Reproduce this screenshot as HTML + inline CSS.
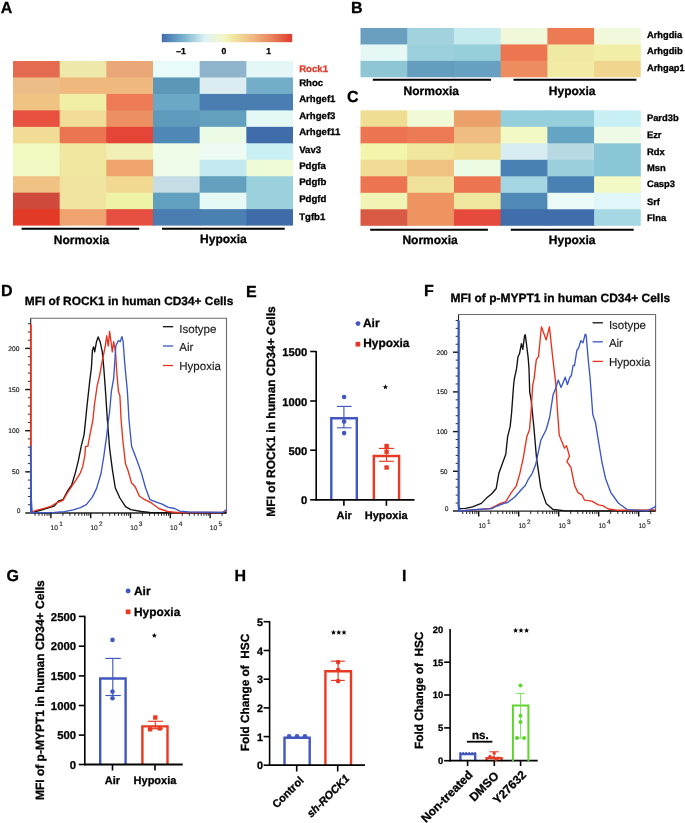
<!DOCTYPE html>
<html><head><meta charset="utf-8"><title>Figure</title>
<style>
html,body{margin:0;padding:0;background:#fff;}
body{width:685px;height:823px;overflow:hidden;}
svg{display:block;font-family:"Liberation Sans", sans-serif;will-change:transform;text-rendering:geometricPrecision;}
</style></head>
<body>
<svg width="685" height="823" viewBox="0 0 685 823">
<rect width="685" height="823" fill="#fff"/>
<text x="0.8" y="12.6" font-size="16" font-weight="bold" font-style="normal" text-anchor="start" fill="#000"  stroke="#000" stroke-width="0.3">A</text>
<text x="350.9" y="12.6" font-size="16" font-weight="bold" font-style="normal" text-anchor="start" fill="#000"  stroke="#000" stroke-width="0.3">B</text>
<text x="347.1" y="102.3" font-size="16" font-weight="bold" font-style="normal" text-anchor="start" fill="#000"  stroke="#000" stroke-width="0.3">C</text>
<text x="0.9" y="295.7" font-size="16" font-weight="bold" font-style="normal" text-anchor="start" fill="#000"  stroke="#000" stroke-width="0.3">D</text>
<text x="246.0" y="296.9" font-size="16" font-weight="bold" font-style="normal" text-anchor="start" fill="#000"  stroke="#000" stroke-width="0.3">E</text>
<text x="423.9" y="295.7" font-size="16" font-weight="bold" font-style="normal" text-anchor="start" fill="#000"  stroke="#000" stroke-width="0.3">F</text>
<text x="6.4" y="581.0" font-size="16" font-weight="bold" font-style="normal" text-anchor="start" fill="#000"  stroke="#000" stroke-width="0.3">G</text>
<text x="234.4" y="581.3" font-size="16" font-weight="bold" font-style="normal" text-anchor="start" fill="#000"  stroke="#000" stroke-width="0.3">H</text>
<text x="402.1" y="581.3" font-size="16" font-weight="bold" font-style="normal" text-anchor="start" fill="#000"  stroke="#000" stroke-width="0.3">I</text>
<rect x="13.00" y="61.00" width="47.87" height="17.66" fill="#e46b50" />
<rect x="59.67" y="61.00" width="47.87" height="17.66" fill="#efe8ab" />
<rect x="106.33" y="61.00" width="47.87" height="17.66" fill="#eaa878" />
<rect x="153.00" y="61.00" width="47.87" height="17.66" fill="#e8faf9" />
<rect x="199.67" y="61.00" width="47.87" height="17.66" fill="#8fb4cb" />
<rect x="246.33" y="61.00" width="46.67" height="17.66" fill="#e4f6f6" />
<rect x="13.00" y="77.46" width="47.87" height="17.66" fill="#edbd88" />
<rect x="59.67" y="77.46" width="47.87" height="17.66" fill="#efb97d" />
<rect x="106.33" y="77.46" width="47.87" height="17.66" fill="#efb97d" />
<rect x="153.00" y="77.46" width="47.87" height="17.66" fill="#5c97b7" />
<rect x="199.67" y="77.46" width="47.87" height="17.66" fill="#dcedf2" />
<rect x="246.33" y="77.46" width="46.67" height="17.66" fill="#74adc7" />
<rect x="13.00" y="93.92" width="47.87" height="17.66" fill="#efc482" />
<rect x="59.67" y="93.92" width="47.87" height="17.66" fill="#f1eea5" />
<rect x="106.33" y="93.92" width="47.87" height="17.66" fill="#ee7a56" />
<rect x="153.00" y="93.92" width="47.87" height="17.66" fill="#6aa8c5" />
<rect x="199.67" y="93.92" width="47.87" height="17.66" fill="#4a7eb2" />
<rect x="246.33" y="93.92" width="46.67" height="17.66" fill="#4a7eb2" />
<rect x="13.00" y="110.38" width="47.87" height="17.66" fill="#e8503f" />
<rect x="59.67" y="110.38" width="47.87" height="17.66" fill="#f1dd98" />
<rect x="106.33" y="110.38" width="47.87" height="17.66" fill="#ec9062" />
<rect x="153.00" y="110.38" width="47.87" height="17.66" fill="#5d9abc" />
<rect x="199.67" y="110.38" width="47.87" height="17.66" fill="#62a0be" />
<rect x="246.33" y="110.38" width="46.67" height="17.66" fill="#e4f8f6" />
<rect x="13.00" y="126.84" width="47.87" height="17.66" fill="#f1dc95" />
<rect x="59.67" y="126.84" width="47.87" height="17.66" fill="#ec7551" />
<rect x="106.33" y="126.84" width="47.87" height="17.66" fill="#e54536" />
<rect x="153.00" y="126.84" width="47.87" height="17.66" fill="#4f88b6" />
<rect x="199.67" y="126.84" width="47.87" height="17.66" fill="#ecfbe5" />
<rect x="246.33" y="126.84" width="46.67" height="17.66" fill="#3e6da9" />
<rect x="13.00" y="143.30" width="47.87" height="17.66" fill="#f1f8c0" />
<rect x="59.67" y="143.30" width="47.87" height="17.66" fill="#f1e6a0" />
<rect x="106.33" y="143.30" width="47.87" height="17.66" fill="#f1efb5" />
<rect x="153.00" y="143.30" width="47.87" height="17.66" fill="#eefbe6" />
<rect x="199.67" y="143.30" width="47.87" height="17.66" fill="#edfbf2" />
<rect x="246.33" y="143.30" width="46.67" height="17.66" fill="#cbf0f3" />
<rect x="13.00" y="159.76" width="47.87" height="17.66" fill="#f2f8c4" />
<rect x="59.67" y="159.76" width="47.87" height="17.66" fill="#f1e6a0" />
<rect x="106.33" y="159.76" width="47.87" height="17.66" fill="#eea46c" />
<rect x="153.00" y="159.76" width="47.87" height="17.66" fill="#eefbe8" />
<rect x="199.67" y="159.76" width="47.87" height="17.66" fill="#c4e9ef" />
<rect x="246.33" y="159.76" width="46.67" height="17.66" fill="#eefbd6" />
<rect x="13.00" y="176.22" width="47.87" height="17.66" fill="#f0c284" />
<rect x="59.67" y="176.22" width="47.87" height="17.66" fill="#f1e4a0" />
<rect x="106.33" y="176.22" width="47.87" height="17.66" fill="#f1d992" />
<rect x="153.00" y="176.22" width="47.87" height="17.66" fill="#c6dde5" />
<rect x="199.67" y="176.22" width="47.87" height="17.66" fill="#64a0be" />
<rect x="246.33" y="176.22" width="46.67" height="17.66" fill="#9ad1dc" />
<rect x="13.00" y="192.68" width="47.87" height="17.66" fill="#cf4a3b" />
<rect x="59.67" y="192.68" width="47.87" height="17.66" fill="#f1e4a0" />
<rect x="106.33" y="192.68" width="47.87" height="17.66" fill="#eff3a6" />
<rect x="153.00" y="192.68" width="47.87" height="17.66" fill="#62a0c0" />
<rect x="199.67" y="192.68" width="47.87" height="17.66" fill="#e6f9f6" />
<rect x="246.33" y="192.68" width="46.67" height="17.66" fill="#9ad1dc" />
<rect x="13.00" y="209.14" width="47.87" height="16.46" fill="#e33a27" />
<rect x="59.67" y="209.14" width="47.87" height="16.46" fill="#efa36e" />
<rect x="106.33" y="209.14" width="47.87" height="16.46" fill="#e65041" />
<rect x="153.00" y="209.14" width="47.87" height="16.46" fill="#4a7db2" />
<rect x="199.67" y="209.14" width="47.87" height="16.46" fill="#4a80b2" />
<rect x="246.33" y="209.14" width="46.67" height="16.46" fill="#3e6ca9" />
<rect x="360.50" y="28.00" width="47.92" height="17.63" fill="#6a9fc0" />
<rect x="407.22" y="28.00" width="47.92" height="17.63" fill="#a3d2df" />
<rect x="453.93" y="28.00" width="47.92" height="17.63" fill="#c6ebef" />
<rect x="500.65" y="28.00" width="47.92" height="17.63" fill="#f1f8d9" />
<rect x="547.37" y="28.00" width="47.92" height="17.63" fill="#ec7a53" />
<rect x="594.08" y="28.00" width="46.72" height="17.63" fill="#f0f9db" />
<rect x="360.50" y="44.43" width="47.92" height="17.63" fill="#e6f8f6" />
<rect x="407.22" y="44.43" width="47.92" height="17.63" fill="#9dd0dd" />
<rect x="453.93" y="44.43" width="47.92" height="17.63" fill="#96ced9" />
<rect x="500.65" y="44.43" width="47.92" height="17.63" fill="#ed7651" />
<rect x="547.37" y="44.43" width="47.92" height="17.63" fill="#f0e9a3" />
<rect x="594.08" y="44.43" width="46.72" height="17.63" fill="#f1eea7" />
<rect x="360.50" y="60.87" width="47.92" height="16.43" fill="#8fc6d4" />
<rect x="407.22" y="60.87" width="47.92" height="16.43" fill="#659dbf" />
<rect x="453.93" y="60.87" width="47.92" height="16.43" fill="#67a0c0" />
<rect x="500.65" y="60.87" width="47.92" height="16.43" fill="#ec8c5f" />
<rect x="547.37" y="60.87" width="47.92" height="16.43" fill="#f1eba6" />
<rect x="594.08" y="60.87" width="46.72" height="16.43" fill="#f0d58f" />
<rect x="360.50" y="110.30" width="47.92" height="17.70" fill="#efdd94" />
<rect x="407.22" y="110.30" width="47.92" height="17.70" fill="#f0fad6" />
<rect x="453.93" y="110.30" width="47.92" height="17.70" fill="#eca06a" />
<rect x="500.65" y="110.30" width="47.92" height="17.70" fill="#95cfdb" />
<rect x="547.37" y="110.30" width="47.92" height="17.70" fill="#95cfdb" />
<rect x="594.08" y="110.30" width="46.72" height="17.70" fill="#c8f0f4" />
<rect x="360.50" y="126.80" width="47.92" height="17.70" fill="#ec7451" />
<rect x="407.22" y="126.80" width="47.92" height="17.70" fill="#ec7a53" />
<rect x="453.93" y="126.80" width="47.92" height="17.70" fill="#efbc81" />
<rect x="500.65" y="126.80" width="47.92" height="17.70" fill="#f2f9c4" />
<rect x="547.37" y="126.80" width="47.92" height="17.70" fill="#65a4c2" />
<rect x="594.08" y="126.80" width="46.72" height="17.70" fill="#eefae5" />
<rect x="360.50" y="143.30" width="47.92" height="17.70" fill="#f2f5ab" />
<rect x="407.22" y="143.30" width="47.92" height="17.70" fill="#f0e69d" />
<rect x="453.93" y="143.30" width="47.92" height="17.70" fill="#f0de94" />
<rect x="500.65" y="143.30" width="47.92" height="17.70" fill="#d8edf2" />
<rect x="547.37" y="143.30" width="47.92" height="17.70" fill="#b7d9e2" />
<rect x="594.08" y="143.30" width="46.72" height="17.70" fill="#8ac6d5" />
<rect x="360.50" y="159.80" width="47.92" height="17.70" fill="#f0dc94" />
<rect x="407.22" y="159.80" width="47.92" height="17.70" fill="#f0c282" />
<rect x="453.93" y="159.80" width="47.92" height="17.70" fill="#ecfbe4" />
<rect x="500.65" y="159.80" width="47.92" height="17.70" fill="#4a80b4" />
<rect x="547.37" y="159.80" width="47.92" height="17.70" fill="#9bcfdb" />
<rect x="594.08" y="159.80" width="46.72" height="17.70" fill="#8ac6d5" />
<rect x="360.50" y="176.30" width="47.92" height="17.70" fill="#ec7451" />
<rect x="407.22" y="176.30" width="47.92" height="17.70" fill="#f0e29b" />
<rect x="453.93" y="176.30" width="47.92" height="17.70" fill="#ec7451" />
<rect x="500.65" y="176.30" width="47.92" height="17.70" fill="#a3d6e2" />
<rect x="547.37" y="176.30" width="47.92" height="17.70" fill="#4a80b4" />
<rect x="594.08" y="176.30" width="46.72" height="17.70" fill="#f2f9c4" />
<rect x="360.50" y="192.80" width="47.92" height="17.70" fill="#f2f4b5" />
<rect x="407.22" y="192.80" width="47.92" height="17.70" fill="#ed9461" />
<rect x="453.93" y="192.80" width="47.92" height="17.70" fill="#f0e79e" />
<rect x="500.65" y="192.80" width="47.92" height="17.70" fill="#5088b6" />
<rect x="547.37" y="192.80" width="47.92" height="17.70" fill="#ecfaf8" />
<rect x="594.08" y="192.80" width="46.72" height="17.70" fill="#e0f6f8" />
<rect x="360.50" y="209.30" width="47.92" height="16.50" fill="#d85a45" />
<rect x="407.22" y="209.30" width="47.92" height="16.50" fill="#ed9461" />
<rect x="453.93" y="209.30" width="47.92" height="16.50" fill="#e64a3c" />
<rect x="500.65" y="209.30" width="47.92" height="16.50" fill="#3f6eab" />
<rect x="547.37" y="209.30" width="47.92" height="16.50" fill="#3f6eab" />
<rect x="594.08" y="209.30" width="46.72" height="16.50" fill="#a6d8e3" />
<defs><linearGradient id="cb" x1="0" x2="1" y1="0" y2="0">
<stop offset="0" stop-color="#3f6eab"/>
<stop offset="0.18" stop-color="#7fb8d0"/>
<stop offset="0.33" stop-color="#dcf2f4"/>
<stop offset="0.47" stop-color="#f3f7c8"/>
<stop offset="0.55" stop-color="#f1e6a0"/>
<stop offset="0.70" stop-color="#efb880"/>
<stop offset="0.85" stop-color="#e8805c"/>
<stop offset="1" stop-color="#e03a2e"/>
</linearGradient></defs>
<rect x="161.80" y="33.90" width="130.40" height="8.30" fill="url(#cb)" />
<text x="181" y="54.1" font-size="8.6" font-weight="bold" font-style="normal" text-anchor="middle" fill="#000"  stroke="#000" stroke-width="0.3">–1</text>
<text x="223.8" y="54.1" font-size="8.6" font-weight="bold" font-style="normal" text-anchor="middle" fill="#000"  stroke="#000" stroke-width="0.3">0</text>
<text x="268.6" y="54.1" font-size="8.6" font-weight="bold" font-style="normal" text-anchor="middle" fill="#000"  stroke="#000" stroke-width="0.3">1</text>
<text x="299.2" y="72.1" font-size="9.6" font-weight="bold" font-style="normal" text-anchor="start" fill="#e33b2b"  stroke="#e33b2b" stroke-width="0.3">Rock1</text>
<text x="299.2" y="85.9" font-size="9.6" font-weight="bold" font-style="normal" text-anchor="start" fill="#000"  stroke="#000" stroke-width="0.3">Rhoc</text>
<text x="299.2" y="102.1" font-size="9.6" font-weight="bold" font-style="normal" text-anchor="start" fill="#000"  stroke="#000" stroke-width="0.3">Arhgef1</text>
<text x="299.2" y="118.6" font-size="9.6" font-weight="bold" font-style="normal" text-anchor="start" fill="#000"  stroke="#000" stroke-width="0.3">Arhgef3</text>
<text x="299.2" y="135.2" font-size="9.6" font-weight="bold" font-style="normal" text-anchor="start" fill="#000"  stroke="#000" stroke-width="0.3">Arhgef11</text>
<text x="299.2" y="152.6" font-size="9.6" font-weight="bold" font-style="normal" text-anchor="start" fill="#000"  stroke="#000" stroke-width="0.3">Vav3</text>
<text x="299.2" y="168.8" font-size="9.6" font-weight="bold" font-style="normal" text-anchor="start" fill="#000"  stroke="#000" stroke-width="0.3">Pdgfa</text>
<text x="299.2" y="185.2" font-size="9.6" font-weight="bold" font-style="normal" text-anchor="start" fill="#000"  stroke="#000" stroke-width="0.3">Pdgfb</text>
<text x="299.2" y="201.6" font-size="9.6" font-weight="bold" font-style="normal" text-anchor="start" fill="#000"  stroke="#000" stroke-width="0.3">Pdgfd</text>
<text x="299.2" y="220.2" font-size="9.6" font-weight="bold" font-style="normal" text-anchor="start" fill="#000"  stroke="#000" stroke-width="0.3">Tgfb1</text>
<text x="647" y="37.7" font-size="9.3" font-weight="bold" font-style="normal" text-anchor="start" fill="#000"  stroke="#000" stroke-width="0.3">Arhgdia</text>
<text x="647" y="54.3" font-size="9.3" font-weight="bold" font-style="normal" text-anchor="start" fill="#000"  stroke="#000" stroke-width="0.3">Arhgdib</text>
<text x="647" y="70.5" font-size="9.3" font-weight="bold" font-style="normal" text-anchor="start" fill="#000"  stroke="#000" stroke-width="0.3">Arhgap1</text>
<text x="646.9" y="121" font-size="9.4" font-weight="bold" font-style="normal" text-anchor="start" fill="#000"  stroke="#000" stroke-width="0.3">Pard3b</text>
<text x="646.9" y="137.7" font-size="9.4" font-weight="bold" font-style="normal" text-anchor="start" fill="#000"  stroke="#000" stroke-width="0.3">Ezr</text>
<text x="646.9" y="154.8" font-size="9.4" font-weight="bold" font-style="normal" text-anchor="start" fill="#000"  stroke="#000" stroke-width="0.3">Rdx</text>
<text x="646.9" y="171.4" font-size="9.4" font-weight="bold" font-style="normal" text-anchor="start" fill="#000"  stroke="#000" stroke-width="0.3">Msn</text>
<text x="646.9" y="187.1" font-size="9.4" font-weight="bold" font-style="normal" text-anchor="start" fill="#000"  stroke="#000" stroke-width="0.3">Casp3</text>
<text x="646.9" y="204.5" font-size="9.4" font-weight="bold" font-style="normal" text-anchor="start" fill="#000"  stroke="#000" stroke-width="0.3">Srf</text>
<text x="646.9" y="221.3" font-size="9.4" font-weight="bold" font-style="normal" text-anchor="start" fill="#000"  stroke="#000" stroke-width="0.3">Flna</text>
<line x1="21.6" y1="228.8" x2="139.2" y2="228.8" stroke="#000" stroke-width="2" />
<line x1="162" y1="228.8" x2="284.7" y2="228.8" stroke="#000" stroke-width="2" />
<text x="81.5" y="243.5" font-size="12" font-weight="bold" font-style="normal" text-anchor="middle" fill="#000"  stroke="#000" stroke-width="0.3">Normoxia</text>
<text x="223.4" y="243.4" font-size="12" font-weight="bold" font-style="normal" text-anchor="middle" fill="#000"  stroke="#000" stroke-width="0.3">Hypoxia</text>
<line x1="372.8" y1="79.8" x2="491" y2="79.8" stroke="#000" stroke-width="2" />
<line x1="513.5" y1="79.8" x2="636.4" y2="79.8" stroke="#000" stroke-width="2" />
<text x="431.3" y="94.6" font-size="12" font-weight="bold" font-style="normal" text-anchor="middle" fill="#000"  stroke="#000" stroke-width="0.3">Normoxia</text>
<text x="572.2" y="94.5" font-size="12" font-weight="bold" font-style="normal" text-anchor="middle" fill="#000"  stroke="#000" stroke-width="0.3">Hypoxia</text>
<line x1="370.2" y1="229.8" x2="487.9" y2="229.8" stroke="#000" stroke-width="2" />
<line x1="510.8" y1="229.8" x2="633.7" y2="229.8" stroke="#000" stroke-width="2" />
<text x="430.1" y="244.3" font-size="12" font-weight="bold" font-style="normal" text-anchor="middle" fill="#000"  stroke="#000" stroke-width="0.3">Normoxia</text>
<text x="572.2" y="244.4" font-size="12" font-weight="bold" font-style="normal" text-anchor="middle" fill="#000"  stroke="#000" stroke-width="0.3">Hypoxia</text>
<path d="M30.7,318.2 L226.5,318.2 L226.5,513" fill="none" stroke="#6a6a6a" stroke-width="1.1"/>
<line x1="30.7" y1="318.2" x2="30.7" y2="513" stroke="#222" stroke-width="1.1" />
<line x1="30.7" y1="513" x2="226.5" y2="513" stroke="#222" stroke-width="1.3" />
<line x1="25.2" y1="513.0" x2="30.7" y2="513.0" stroke="#111" stroke-width="1.4" />
<text x="20.4" y="512.9" font-size="6.7" font-weight="normal" font-style="normal" text-anchor="end" fill="#111"  stroke="#111" stroke-width="0.15">0</text>
<line x1="27.9" y1="504.77" x2="30.7" y2="504.77" stroke="#111" stroke-width="0.9" />
<line x1="27.9" y1="496.54" x2="30.7" y2="496.54" stroke="#111" stroke-width="0.9" />
<line x1="27.9" y1="488.31" x2="30.7" y2="488.31" stroke="#111" stroke-width="0.9" />
<line x1="27.9" y1="480.08" x2="30.7" y2="480.08" stroke="#111" stroke-width="0.9" />
<line x1="25.2" y1="471.85" x2="30.7" y2="471.85" stroke="#111" stroke-width="1.4" />
<text x="19.4" y="474.15000000000003" font-size="6.7" font-weight="normal" font-style="normal" text-anchor="end" fill="#111"  stroke="#111" stroke-width="0.15">50</text>
<line x1="27.9" y1="463.62" x2="30.7" y2="463.62" stroke="#111" stroke-width="0.9" />
<line x1="27.9" y1="455.39" x2="30.7" y2="455.39" stroke="#111" stroke-width="0.9" />
<line x1="27.9" y1="447.15999999999997" x2="30.7" y2="447.15999999999997" stroke="#111" stroke-width="0.9" />
<line x1="27.9" y1="438.93" x2="30.7" y2="438.93" stroke="#111" stroke-width="0.9" />
<line x1="25.2" y1="430.7" x2="30.7" y2="430.7" stroke="#111" stroke-width="1.4" />
<text x="19.4" y="433.0" font-size="6.7" font-weight="normal" font-style="normal" text-anchor="end" fill="#111"  stroke="#111" stroke-width="0.15">100</text>
<line x1="27.9" y1="422.47" x2="30.7" y2="422.47" stroke="#111" stroke-width="0.9" />
<line x1="27.9" y1="414.24" x2="30.7" y2="414.24" stroke="#111" stroke-width="0.9" />
<line x1="27.9" y1="406.01" x2="30.7" y2="406.01" stroke="#111" stroke-width="0.9" />
<line x1="27.9" y1="397.78" x2="30.7" y2="397.78" stroke="#111" stroke-width="0.9" />
<line x1="25.2" y1="389.55" x2="30.7" y2="389.55" stroke="#111" stroke-width="1.4" />
<text x="19.4" y="391.85" font-size="6.7" font-weight="normal" font-style="normal" text-anchor="end" fill="#111"  stroke="#111" stroke-width="0.15">150</text>
<line x1="27.9" y1="381.32" x2="30.7" y2="381.32" stroke="#111" stroke-width="0.9" />
<line x1="27.9" y1="373.09000000000003" x2="30.7" y2="373.09000000000003" stroke="#111" stroke-width="0.9" />
<line x1="27.9" y1="364.86" x2="30.7" y2="364.86" stroke="#111" stroke-width="0.9" />
<line x1="27.9" y1="356.63" x2="30.7" y2="356.63" stroke="#111" stroke-width="0.9" />
<line x1="25.2" y1="348.4" x2="30.7" y2="348.4" stroke="#111" stroke-width="1.4" />
<text x="19.4" y="350.7" font-size="6.7" font-weight="normal" font-style="normal" text-anchor="end" fill="#111"  stroke="#111" stroke-width="0.15">200</text>
<line x1="27.9" y1="340.17" x2="30.7" y2="340.17" stroke="#111" stroke-width="0.9" />
<line x1="27.9" y1="331.94" x2="30.7" y2="331.94" stroke="#111" stroke-width="0.9" />
<line x1="27.9" y1="323.71000000000004" x2="30.7" y2="323.71000000000004" stroke="#111" stroke-width="0.9" />
<line x1="35.0619876548529" y1="513" x2="35.0619876548529" y2="515.8" stroke="#111" stroke-width="0.9" />
<line x1="38.919006172573546" y1="513" x2="38.919006172573546" y2="515.8" stroke="#111" stroke-width="0.9" />
<line x1="42.070419765269015" y1="513" x2="42.070419765269015" y2="515.8" stroke="#111" stroke-width="0.9" />
<line x1="44.73490199256742" y1="513" x2="44.73490199256742" y2="515.8" stroke="#111" stroke-width="0.9" />
<line x1="47.04298148227935" y1="513" x2="47.04298148227935" y2="515.8" stroke="#111" stroke-width="0.9" />
<line x1="49.07885187568513" y1="513" x2="49.07885187568513" y2="515.8" stroke="#111" stroke-width="0.9" />
<line x1="50.9" y1="513" x2="50.9" y2="518.2" stroke="#111" stroke-width="1.4" />
<line x1="62.88099382742645" y1="513" x2="62.88099382742645" y2="515.8" stroke="#111" stroke-width="0.9" />
<line x1="69.88942593784256" y1="513" x2="69.88942593784256" y2="515.8" stroke="#111" stroke-width="0.9" />
<line x1="74.8619876548529" y1="513" x2="74.8619876548529" y2="515.8" stroke="#111" stroke-width="0.9" />
<line x1="78.71900617257354" y1="513" x2="78.71900617257354" y2="515.8" stroke="#111" stroke-width="0.9" />
<line x1="81.87041976526902" y1="513" x2="81.87041976526902" y2="515.8" stroke="#111" stroke-width="0.9" />
<line x1="84.53490199256743" y1="513" x2="84.53490199256743" y2="515.8" stroke="#111" stroke-width="0.9" />
<line x1="86.84298148227936" y1="513" x2="86.84298148227936" y2="515.8" stroke="#111" stroke-width="0.9" />
<line x1="88.87885187568513" y1="513" x2="88.87885187568513" y2="515.8" stroke="#111" stroke-width="0.9" />
<text x="50.6" y="529.8" font-size="6.7" fill="#222" stroke="#222" stroke-width="0.15">10<tspan dx="1.2" dy="-4" font-size="6.5">1</tspan></text>
<line x1="90.69999999999999" y1="513" x2="90.69999999999999" y2="518.2" stroke="#111" stroke-width="1.4" />
<line x1="102.68099382742645" y1="513" x2="102.68099382742645" y2="515.8" stroke="#111" stroke-width="0.9" />
<line x1="109.68942593784256" y1="513" x2="109.68942593784256" y2="515.8" stroke="#111" stroke-width="0.9" />
<line x1="114.66198765485291" y1="513" x2="114.66198765485291" y2="515.8" stroke="#111" stroke-width="0.9" />
<line x1="118.51900617257354" y1="513" x2="118.51900617257354" y2="515.8" stroke="#111" stroke-width="0.9" />
<line x1="121.670419765269" y1="513" x2="121.670419765269" y2="515.8" stroke="#111" stroke-width="0.9" />
<line x1="124.33490199256741" y1="513" x2="124.33490199256741" y2="515.8" stroke="#111" stroke-width="0.9" />
<line x1="126.64298148227934" y1="513" x2="126.64298148227934" y2="515.8" stroke="#111" stroke-width="0.9" />
<line x1="128.67885187568513" y1="513" x2="128.67885187568513" y2="515.8" stroke="#111" stroke-width="0.9" />
<text x="90.4" y="529.8" font-size="6.7" fill="#222" stroke="#222" stroke-width="0.15">10<tspan dx="1.2" dy="-4" font-size="6.5">2</tspan></text>
<line x1="130.5" y1="513" x2="130.5" y2="518.2" stroke="#111" stroke-width="1.4" />
<line x1="142.48099382742646" y1="513" x2="142.48099382742646" y2="515.8" stroke="#111" stroke-width="0.9" />
<line x1="149.48942593784255" y1="513" x2="149.48942593784255" y2="515.8" stroke="#111" stroke-width="0.9" />
<line x1="154.4619876548529" y1="513" x2="154.4619876548529" y2="515.8" stroke="#111" stroke-width="0.9" />
<line x1="158.31900617257352" y1="513" x2="158.31900617257352" y2="515.8" stroke="#111" stroke-width="0.9" />
<line x1="161.470419765269" y1="513" x2="161.470419765269" y2="515.8" stroke="#111" stroke-width="0.9" />
<line x1="164.13490199256742" y1="513" x2="164.13490199256742" y2="515.8" stroke="#111" stroke-width="0.9" />
<line x1="166.44298148227935" y1="513" x2="166.44298148227935" y2="515.8" stroke="#111" stroke-width="0.9" />
<line x1="168.4788518756851" y1="513" x2="168.4788518756851" y2="515.8" stroke="#111" stroke-width="0.9" />
<text x="130.2" y="529.8" font-size="6.7" fill="#222" stroke="#222" stroke-width="0.15">10<tspan dx="1.2" dy="-4" font-size="6.5">3</tspan></text>
<line x1="170.29999999999998" y1="513" x2="170.29999999999998" y2="518.2" stroke="#111" stroke-width="1.4" />
<line x1="182.28099382742644" y1="513" x2="182.28099382742644" y2="515.8" stroke="#111" stroke-width="0.9" />
<line x1="189.28942593784257" y1="513" x2="189.28942593784257" y2="515.8" stroke="#111" stroke-width="0.9" />
<line x1="194.2619876548529" y1="513" x2="194.2619876548529" y2="515.8" stroke="#111" stroke-width="0.9" />
<line x1="198.11900617257353" y1="513" x2="198.11900617257353" y2="515.8" stroke="#111" stroke-width="0.9" />
<line x1="201.27041976526903" y1="513" x2="201.27041976526903" y2="515.8" stroke="#111" stroke-width="0.9" />
<line x1="203.93490199256743" y1="513" x2="203.93490199256743" y2="515.8" stroke="#111" stroke-width="0.9" />
<line x1="206.24298148227936" y1="513" x2="206.24298148227936" y2="515.8" stroke="#111" stroke-width="0.9" />
<line x1="208.27885187568512" y1="513" x2="208.27885187568512" y2="515.8" stroke="#111" stroke-width="0.9" />
<text x="170.0" y="529.8" font-size="6.7" fill="#222" stroke="#222" stroke-width="0.15">10<tspan dx="1.2" dy="-4" font-size="6.5">4</tspan></text>
<line x1="210.1" y1="513" x2="210.1" y2="518.2" stroke="#111" stroke-width="1.4" />
<line x1="222.08099382742645" y1="513" x2="222.08099382742645" y2="515.8" stroke="#111" stroke-width="0.9" />
<text x="209.8" y="529.8" font-size="6.7" fill="#222" stroke="#222" stroke-width="0.15">10<tspan dx="1.2" dy="-4" font-size="6.5">5</tspan></text>
<text x="24.8" y="305.4" font-size="11.9" font-weight="bold" stroke="#000" stroke-width="0.3">MFI of ROCK1 in human CD34+ Cells</text>
<path d="M458.5,314.5 L655.6,314.5 L655.6,511.2" fill="none" stroke="#6a6a6a" stroke-width="1.1"/>
<line x1="458.5" y1="314.5" x2="458.5" y2="511.2" stroke="#222" stroke-width="1.1" />
<line x1="458.5" y1="511.2" x2="655.6" y2="511.2" stroke="#222" stroke-width="1.3" />
<line x1="453.0" y1="511.0" x2="458.5" y2="511.0" stroke="#111" stroke-width="1.4" />
<text x="448.6" y="510.9" font-size="6.7" font-weight="normal" font-style="normal" text-anchor="end" fill="#111"  stroke="#111" stroke-width="0.15">0</text>
<line x1="455.7" y1="503.06" x2="458.5" y2="503.06" stroke="#111" stroke-width="0.9" />
<line x1="455.7" y1="495.12" x2="458.5" y2="495.12" stroke="#111" stroke-width="0.9" />
<line x1="455.7" y1="487.18" x2="458.5" y2="487.18" stroke="#111" stroke-width="0.9" />
<line x1="455.7" y1="479.24" x2="458.5" y2="479.24" stroke="#111" stroke-width="0.9" />
<line x1="453.0" y1="471.3" x2="458.5" y2="471.3" stroke="#111" stroke-width="1.4" />
<text x="447.6" y="473.6" font-size="6.7" font-weight="normal" font-style="normal" text-anchor="end" fill="#111"  stroke="#111" stroke-width="0.15">50</text>
<line x1="455.7" y1="463.36" x2="458.5" y2="463.36" stroke="#111" stroke-width="0.9" />
<line x1="455.7" y1="455.42" x2="458.5" y2="455.42" stroke="#111" stroke-width="0.9" />
<line x1="455.7" y1="447.48" x2="458.5" y2="447.48" stroke="#111" stroke-width="0.9" />
<line x1="455.7" y1="439.53999999999996" x2="458.5" y2="439.53999999999996" stroke="#111" stroke-width="0.9" />
<line x1="453.0" y1="431.6" x2="458.5" y2="431.6" stroke="#111" stroke-width="1.4" />
<text x="447.6" y="433.90000000000003" font-size="6.7" font-weight="normal" font-style="normal" text-anchor="end" fill="#111"  stroke="#111" stroke-width="0.15">100</text>
<line x1="455.7" y1="423.65999999999997" x2="458.5" y2="423.65999999999997" stroke="#111" stroke-width="0.9" />
<line x1="455.7" y1="415.72" x2="458.5" y2="415.72" stroke="#111" stroke-width="0.9" />
<line x1="455.7" y1="407.78" x2="458.5" y2="407.78" stroke="#111" stroke-width="0.9" />
<line x1="455.7" y1="399.84" x2="458.5" y2="399.84" stroke="#111" stroke-width="0.9" />
<line x1="453.0" y1="391.9" x2="458.5" y2="391.9" stroke="#111" stroke-width="1.4" />
<text x="447.6" y="394.2" font-size="6.7" font-weight="normal" font-style="normal" text-anchor="end" fill="#111"  stroke="#111" stroke-width="0.15">150</text>
<line x1="455.7" y1="383.96" x2="458.5" y2="383.96" stroke="#111" stroke-width="0.9" />
<line x1="455.7" y1="376.02" x2="458.5" y2="376.02" stroke="#111" stroke-width="0.9" />
<line x1="455.7" y1="368.08" x2="458.5" y2="368.08" stroke="#111" stroke-width="0.9" />
<line x1="455.7" y1="360.14" x2="458.5" y2="360.14" stroke="#111" stroke-width="0.9" />
<line x1="453.0" y1="352.2" x2="458.5" y2="352.2" stroke="#111" stroke-width="1.4" />
<text x="447.6" y="354.5" font-size="6.7" font-weight="normal" font-style="normal" text-anchor="end" fill="#111"  stroke="#111" stroke-width="0.15">200</text>
<line x1="455.7" y1="344.26" x2="458.5" y2="344.26" stroke="#111" stroke-width="0.9" />
<line x1="455.7" y1="336.32" x2="458.5" y2="336.32" stroke="#111" stroke-width="0.9" />
<line x1="455.7" y1="328.38" x2="458.5" y2="328.38" stroke="#111" stroke-width="0.9" />
<line x1="455.7" y1="320.44" x2="458.5" y2="320.44" stroke="#111" stroke-width="0.9" />
<line x1="462.7823996531185" y1="511.2" x2="462.7823996531185" y2="514.0" stroke="#111" stroke-width="0.9" />
<line x1="466.65880017344074" y1="511.2" x2="466.65880017344074" y2="514.0" stroke="#111" stroke-width="0.9" />
<line x1="469.82605001534574" y1="511.2" x2="469.82605001534574" y2="514.0" stroke="#111" stroke-width="0.9" />
<line x1="472.50392160057027" y1="511.2" x2="472.50392160057027" y2="514.0" stroke="#111" stroke-width="0.9" />
<line x1="474.82359947967774" y1="511.2" x2="474.82359947967774" y2="514.0" stroke="#111" stroke-width="0.9" />
<line x1="476.869700377573" y1="511.2" x2="476.869700377573" y2="514.0" stroke="#111" stroke-width="0.9" />
<line x1="478.7" y1="511.2" x2="478.7" y2="516.4" stroke="#111" stroke-width="1.4" />
<line x1="490.74119982655924" y1="511.2" x2="490.74119982655924" y2="514.0" stroke="#111" stroke-width="0.9" />
<line x1="497.7848501887865" y1="511.2" x2="497.7848501887865" y2="514.0" stroke="#111" stroke-width="0.9" />
<line x1="502.7823996531185" y1="511.2" x2="502.7823996531185" y2="514.0" stroke="#111" stroke-width="0.9" />
<line x1="506.65880017344074" y1="511.2" x2="506.65880017344074" y2="514.0" stroke="#111" stroke-width="0.9" />
<line x1="509.82605001534574" y1="511.2" x2="509.82605001534574" y2="514.0" stroke="#111" stroke-width="0.9" />
<line x1="512.5039216005703" y1="511.2" x2="512.5039216005703" y2="514.0" stroke="#111" stroke-width="0.9" />
<line x1="514.8235994796777" y1="511.2" x2="514.8235994796777" y2="514.0" stroke="#111" stroke-width="0.9" />
<line x1="516.8697003775729" y1="511.2" x2="516.8697003775729" y2="514.0" stroke="#111" stroke-width="0.9" />
<text x="478.4" y="528.0" font-size="6.7" fill="#222" stroke="#222" stroke-width="0.15">10<tspan dx="1.2" dy="-4" font-size="6.5">1</tspan></text>
<line x1="518.7" y1="511.2" x2="518.7" y2="516.4" stroke="#111" stroke-width="1.4" />
<line x1="530.7411998265593" y1="511.2" x2="530.7411998265593" y2="514.0" stroke="#111" stroke-width="0.9" />
<line x1="537.7848501887864" y1="511.2" x2="537.7848501887864" y2="514.0" stroke="#111" stroke-width="0.9" />
<line x1="542.7823996531185" y1="511.2" x2="542.7823996531185" y2="514.0" stroke="#111" stroke-width="0.9" />
<line x1="546.6588001734408" y1="511.2" x2="546.6588001734408" y2="514.0" stroke="#111" stroke-width="0.9" />
<line x1="549.8260500153457" y1="511.2" x2="549.8260500153457" y2="514.0" stroke="#111" stroke-width="0.9" />
<line x1="552.5039216005703" y1="511.2" x2="552.5039216005703" y2="514.0" stroke="#111" stroke-width="0.9" />
<line x1="554.8235994796777" y1="511.2" x2="554.8235994796777" y2="514.0" stroke="#111" stroke-width="0.9" />
<line x1="556.8697003775729" y1="511.2" x2="556.8697003775729" y2="514.0" stroke="#111" stroke-width="0.9" />
<text x="518.4" y="528.0" font-size="6.7" fill="#222" stroke="#222" stroke-width="0.15">10<tspan dx="1.2" dy="-4" font-size="6.5">2</tspan></text>
<line x1="558.7" y1="511.2" x2="558.7" y2="516.4" stroke="#111" stroke-width="1.4" />
<line x1="570.7411998265593" y1="511.2" x2="570.7411998265593" y2="514.0" stroke="#111" stroke-width="0.9" />
<line x1="577.7848501887865" y1="511.2" x2="577.7848501887865" y2="514.0" stroke="#111" stroke-width="0.9" />
<line x1="582.7823996531185" y1="511.2" x2="582.7823996531185" y2="514.0" stroke="#111" stroke-width="0.9" />
<line x1="586.6588001734408" y1="511.2" x2="586.6588001734408" y2="514.0" stroke="#111" stroke-width="0.9" />
<line x1="589.8260500153458" y1="511.2" x2="589.8260500153458" y2="514.0" stroke="#111" stroke-width="0.9" />
<line x1="592.5039216005703" y1="511.2" x2="592.5039216005703" y2="514.0" stroke="#111" stroke-width="0.9" />
<line x1="594.8235994796778" y1="511.2" x2="594.8235994796778" y2="514.0" stroke="#111" stroke-width="0.9" />
<line x1="596.8697003775729" y1="511.2" x2="596.8697003775729" y2="514.0" stroke="#111" stroke-width="0.9" />
<text x="558.4" y="528.0" font-size="6.7" fill="#222" stroke="#222" stroke-width="0.15">10<tspan dx="1.2" dy="-4" font-size="6.5">3</tspan></text>
<line x1="598.7" y1="511.2" x2="598.7" y2="516.4" stroke="#111" stroke-width="1.4" />
<line x1="610.7411998265593" y1="511.2" x2="610.7411998265593" y2="514.0" stroke="#111" stroke-width="0.9" />
<line x1="617.7848501887865" y1="511.2" x2="617.7848501887865" y2="514.0" stroke="#111" stroke-width="0.9" />
<line x1="622.7823996531185" y1="511.2" x2="622.7823996531185" y2="514.0" stroke="#111" stroke-width="0.9" />
<line x1="626.6588001734408" y1="511.2" x2="626.6588001734408" y2="514.0" stroke="#111" stroke-width="0.9" />
<line x1="629.8260500153458" y1="511.2" x2="629.8260500153458" y2="514.0" stroke="#111" stroke-width="0.9" />
<line x1="632.5039216005703" y1="511.2" x2="632.5039216005703" y2="514.0" stroke="#111" stroke-width="0.9" />
<line x1="634.8235994796778" y1="511.2" x2="634.8235994796778" y2="514.0" stroke="#111" stroke-width="0.9" />
<line x1="636.8697003775729" y1="511.2" x2="636.8697003775729" y2="514.0" stroke="#111" stroke-width="0.9" />
<text x="598.4" y="528.0" font-size="6.7" fill="#222" stroke="#222" stroke-width="0.15">10<tspan dx="1.2" dy="-4" font-size="6.5">4</tspan></text>
<line x1="638.7" y1="511.2" x2="638.7" y2="516.4" stroke="#111" stroke-width="1.4" />
<line x1="650.7411998265593" y1="511.2" x2="650.7411998265593" y2="514.0" stroke="#111" stroke-width="0.9" />
<text x="638.4" y="528.0" font-size="6.7" fill="#222" stroke="#222" stroke-width="0.15">10<tspan dx="1.2" dy="-4" font-size="6.5">5</tspan></text>
<text x="450.5" y="301.5" font-size="12" font-weight="bold" stroke="#000" stroke-width="0.3">MFI of p-MYPT1 in human CD34+ Cells</text>
<polyline points="32.5,512.3 39.6,510.5 46.9,508.3 54.2,506.1 58.6,501.0 63.0,499.6 67.3,491.5 71.7,485.0 75.4,472.6 78.3,460.9 81.2,446.3 84.1,434.6 85.6,420.0 87.0,405.9 89.9,379.6 91.4,368.0 92.4,350.4 93.6,346.8 94.7,351.9 96.5,341.7 98.2,337.0 100.1,341.7 102.3,351.9 103.8,368.0 105.5,391.3 107.4,420.5 109.7,449.2 112.6,471.1 115.3,488.0 119.9,498.0 125.5,506.7 130.8,509.7 141.3,511.5 150.0,512.5 226.0,512.8" fill="none" stroke="#111" stroke-width="1.35" stroke-linejoin="round" stroke-linecap="round"/>
<polyline points="30.7,324.9 30.7,512.5 31.8,511.5 33.8,511.2 38.1,509.8 44.0,508.3 51.3,506.1 57.1,502.5 63.0,500.3 67.3,493.0 71.7,486.4 76.1,479.9 80.5,472.6 82.7,466.7 84.9,455.0 85.6,446.3 87.8,446.3 90.0,434.6 92.9,420.0 94.3,405.9 97.2,385.5 99.4,376.7 102.3,360.7 105.3,346.0 106.7,335.8 108.2,346.0 109.6,331.5 111.4,344.6 112.3,351.9 113.7,341.7 115.5,351.9 116.9,373.8 118.4,391.3 119.9,395.7 121.1,420.0 122.9,441.0 125.5,463.8 128.1,470.8 131.6,483.1 135.1,486.6 139.5,496.2 144.8,499.7 151.8,503.2 158.8,508.5 167.6,511.5 176.3,512.5 222.0,512.5 225.4,510.8 226.3,511.5" fill="none" stroke="#e8321e" stroke-width="1.35" stroke-linejoin="round" stroke-linecap="round"/>
<polyline points="30.7,446.3 30.7,512.5 32.3,512.7 54.2,512.3 64.4,511.7 73.2,509.8 80.5,507.6 86.3,504.7 92.2,497.4 96.5,488.6 100.9,474.0 103.8,456.5 106.8,434.6 108.2,422.0 109.6,411.8 111.4,391.3 113.7,378.2 115.8,346.0 118.4,340.5 120.1,341.7 122.0,336.6 123.1,341.7 125.0,366.5 127.4,391.3 129.0,420.0 131.6,446.3 136.9,460.3 141.3,472.6 145.7,488.3 150.0,499.7 157.0,502.3 162.3,504.1 167.6,507.2 174.6,508.5 179.8,511.1 188.6,512.0 223.0,512.3 226.0,510.0" fill="none" stroke="#3a56c5" stroke-width="1.35" stroke-linejoin="round" stroke-linecap="round"/>
<polyline points="30.8,325.2 30.8,446.0" fill="none" stroke="#e8321e" stroke-width="1.7" stroke-linejoin="round" stroke-linecap="round"/>
<polyline points="30.6,446.3 31.2,500.0 32.0,512.5" fill="none" stroke="#3a56c5" stroke-width="1.7" stroke-linejoin="round" stroke-linecap="round"/>
<polyline points="460.3,508.6 465.5,508.3 472.5,506.9 481.3,503.4 486.5,498.1 491.8,493.7 496.2,488.5 498.8,473.6 503.2,461.3 505.8,454.3 507.6,436.8 510.2,426.3 511.5,413.9 513.7,384.0 514.4,378.6 516.6,368.4 518.0,356.7 519.5,353.8 521.4,343.6 522.8,349.4 524.6,335.5 525.3,334.8 526.8,346.5 528.2,358.2 529.0,368.4 529.7,391.8 531.2,400.5 533.8,426.3 536.5,457.8 540.8,487.6 546.1,503.4 553.1,509.5 563.6,510.7 655.0,510.9" fill="none" stroke="#111" stroke-width="1.35" stroke-linejoin="round" stroke-linecap="round"/>
<polyline points="459.5,511.0 460.3,510.8 490.0,508.6 495.3,506.0 500.5,503.4 505.8,501.6 511.1,492.9 516.3,485.8 519.8,473.6 523.3,457.8 526.8,436.8 529.5,429.8 531.2,410.0 532.6,385.9 534.1,378.6 536.3,359.6 538.5,356.7 541.4,326.8 546.2,339.9 549.4,326.8 552.3,353.8 554.5,372.8 556.0,385.9 557.4,410.0 559.2,435.0 564.5,448.2 566.5,445.6 569.5,456.3 566.9,461.6 570.9,467.4 574.6,485.6 578.2,492.9 581.9,494.8 584.6,500.2 591.9,501.1 598.3,504.8 602.8,505.7 608.3,509.0 616.5,510.2 654.7,509.9" fill="none" stroke="#e8321e" stroke-width="1.35" stroke-linejoin="round" stroke-linecap="round"/>
<polyline points="458.5,320.7 458.5,510.8 460.3,511.0 477.8,509.5 491.8,508.6 497.0,506.0 504.1,503.4 507.6,502.5 514.6,497.2 521.6,489.3 525.1,485.8 528.6,478.8 532.1,473.6 535.6,464.8 540.8,440.3 546.1,429.8 549.6,417.5 551.5,405.0 553.1,394.7 556.0,387.4 558.2,380.1 561.1,387.4 565.2,377.2 567.4,384.5 569.9,377.2 571.3,375.7 573.1,365.5 574.5,365.5 576.9,350.1 578.6,348.0 580.8,340.7 583.0,342.8 585.2,334.1 586.2,335.5 588.1,358.2 590.0,377.0 592.8,414.6 595.5,422.8 598.3,440.1 601.9,462.0 605.5,478.4 611.0,492.9 618.3,503.0 627.4,509.7 647.4,510.8 654.7,507.1 655.5,506.0" fill="none" stroke="#3a56c5" stroke-width="1.35" stroke-linejoin="round" stroke-linecap="round"/>
<polyline points="458.7,321.4 458.7,505.0 459.5,510.8" fill="none" stroke="#3a56c5" stroke-width="2.1" stroke-linejoin="round" stroke-linecap="round"/>
<line x1="162.9" y1="326.7" x2="173.20000000000002" y2="326.7" stroke="#111" stroke-width="1.3" />
<text x="179.3" y="332.5" font-size="11.5" font-weight="normal" font-style="normal" text-anchor="start" fill="#1a1a1a"  stroke="#1a1a1a" stroke-width="0.15">Isotype</text>
<line x1="162.9" y1="346" x2="173.20000000000002" y2="346" stroke="#3a56c5" stroke-width="1.3" />
<text x="179.3" y="350.6" font-size="11.5" font-weight="normal" font-style="normal" text-anchor="start" fill="#1a1a1a"  stroke="#1a1a1a" stroke-width="0.15">Air</text>
<line x1="162.9" y1="365.5" x2="173.20000000000002" y2="365.5" stroke="#e8321e" stroke-width="1.3" />
<text x="179.3" y="369.7" font-size="11.5" font-weight="normal" font-style="normal" text-anchor="start" fill="#1a1a1a"  stroke="#1a1a1a" stroke-width="0.15">Hypoxia</text>
<line x1="592.6" y1="322.8" x2="602.9" y2="322.8" stroke="#111" stroke-width="1.3" />
<text x="608.9" y="328.5" font-size="11.5" font-weight="normal" font-style="normal" text-anchor="start" fill="#1a1a1a"  stroke="#1a1a1a" stroke-width="0.15">Isotype</text>
<line x1="592.6" y1="341.8" x2="602.9" y2="341.8" stroke="#3a56c5" stroke-width="1.3" />
<text x="608.9" y="346.8" font-size="11.5" font-weight="normal" font-style="normal" text-anchor="start" fill="#1a1a1a"  stroke="#1a1a1a" stroke-width="0.15">Air</text>
<line x1="592.6" y1="361.4" x2="602.9" y2="361.4" stroke="#e8321e" stroke-width="1.3" />
<text x="608.9" y="365.5" font-size="11.5" font-weight="normal" font-style="normal" text-anchor="start" fill="#1a1a1a"  stroke="#1a1a1a" stroke-width="0.15">Hypoxia</text>
<text transform="translate(275.3,411.5) rotate(-90)" font-size="12" font-weight="bold" text-anchor="middle" stroke="#000" stroke-width="0.3">MFI of ROCK1 in human CD34+ Cells</text>
<path d="M331.30,500.30 L331.30,418.20 L356.80,418.20 L356.80,500.30" fill="none" stroke="#4258c0" stroke-width="2.4" stroke-linejoin="miter"/>
<path d="M373.80,500.30 L373.80,456.00 L399.10,456.00 L399.10,500.30" fill="none" stroke="#e83a23" stroke-width="2.4" stroke-linejoin="miter"/>
<line x1="316.2" y1="350.9" x2="316.2" y2="500.6" stroke="#000" stroke-width="1.6" />
<line x1="310.2" y1="351.5" x2="316.2" y2="351.5" stroke="#000" stroke-width="1.6" />
<text x="307.2" y="356.0" font-size="11.2" font-weight="bold" font-style="normal" text-anchor="end" fill="#000"  stroke="#000" stroke-width="0.3">1500</text>
<line x1="310.2" y1="401" x2="316.2" y2="401" stroke="#000" stroke-width="1.6" />
<text x="307.2" y="405.5" font-size="11.2" font-weight="bold" font-style="normal" text-anchor="end" fill="#000"  stroke="#000" stroke-width="0.3">1000</text>
<line x1="310.2" y1="450.2" x2="316.2" y2="450.2" stroke="#000" stroke-width="1.6" />
<text x="307.2" y="454.7" font-size="11.2" font-weight="bold" font-style="normal" text-anchor="end" fill="#000"  stroke="#000" stroke-width="0.3">500</text>
<line x1="310.2" y1="499.8" x2="316.2" y2="499.8" stroke="#000" stroke-width="1.6" />
<text x="307.2" y="504.3" font-size="11.2" font-weight="bold" font-style="normal" text-anchor="end" fill="#000"  stroke="#000" stroke-width="0.3">0</text>
<line x1="315.4" y1="499.8" x2="414.5" y2="499.8" stroke="#000" stroke-width="1.8" />
<line x1="343.9" y1="499.8" x2="343.9" y2="505.8" stroke="#000" stroke-width="1.6" />
<line x1="386.4" y1="499.8" x2="386.4" y2="505.8" stroke="#000" stroke-width="1.6" />
<line x1="343.9" y1="406.4" x2="343.9" y2="427.8" stroke="#4258c0" stroke-width="1.15" />
<line x1="337" y1="406.4" x2="351.6" y2="406.4" stroke="#4258c0" stroke-width="1.15" />
<line x1="337" y1="427.8" x2="351.6" y2="427.8" stroke="#4258c0" stroke-width="1.15" />
<circle cx="344.1" cy="397" r="2.3" fill="#4258c0"/>
<circle cx="344.1" cy="421.6" r="2.3" fill="#4258c0"/>
<circle cx="344.1" cy="433.1" r="2.3" fill="#4258c0"/>
<line x1="386.5" y1="448.4" x2="386.5" y2="461.3" stroke="#e83a23" stroke-width="1.15" />
<line x1="379" y1="448.4" x2="393.9" y2="448.4" stroke="#e83a23" stroke-width="1.15" />
<line x1="379" y1="461.3" x2="393.9" y2="461.3" stroke="#e83a23" stroke-width="1.15" />
<rect x="384.40" y="443.80" width="4.40" height="4.40" fill="#e83a23" />
<rect x="384.40" y="449.50" width="4.40" height="4.40" fill="#e83a23" />
<rect x="384.40" y="465.30" width="4.40" height="4.40" fill="#e83a23" />
<polygon points="385.40,384.35 386.11,386.13 388.02,386.25 386.54,387.47 387.02,389.32 385.40,388.30 383.78,389.32 384.26,387.47 382.78,386.25 384.69,386.13" fill="#000"/>
<circle cx="358" cy="323.6" r="2.45" fill="#4258c0"/>
<text x="363.0" y="327.0" font-size="11.9" font-weight="bold" font-style="normal" text-anchor="start" fill="#000"  stroke="#000" stroke-width="0.3">Air</text>
<rect x="355.55" y="341.85" width="4.70" height="4.70" fill="#e83a23" />
<text x="363.2" y="346.9" font-size="11.9" font-weight="bold" font-style="normal" text-anchor="start" fill="#000"  stroke="#000" stroke-width="0.3">Hypoxia</text>
<text x="344.2" y="518.6" font-size="11" font-weight="bold" font-style="normal" text-anchor="middle" fill="#000"  stroke="#000" stroke-width="0.3">Air</text>
<text x="386.2" y="518.6" font-size="11" font-weight="bold" font-style="normal" text-anchor="middle" fill="#000"  stroke="#000" stroke-width="0.3">Hypoxia</text>
<text transform="translate(44.3,690.2) rotate(-90)" font-size="12" font-weight="bold" text-anchor="middle" stroke="#000" stroke-width="0.3">MFI of p-MYPT1 in human CD34+ Cells</text>
<path d="M100.20,765.00 L100.20,678.50 L125.60,678.50 L125.60,765.00" fill="none" stroke="#4258c0" stroke-width="2.4" stroke-linejoin="miter"/>
<path d="M142.40,765.00 L142.40,726.40 L167.50,726.40 L167.50,765.00" fill="none" stroke="#e83a23" stroke-width="2.4" stroke-linejoin="miter"/>
<line x1="84.8" y1="615.8" x2="84.8" y2="765.3" stroke="#000" stroke-width="1.6" />
<line x1="78.8" y1="616.4" x2="84.8" y2="616.4" stroke="#000" stroke-width="1.6" />
<text x="76.0" y="620.5" font-size="11.3" font-weight="bold" font-style="normal" text-anchor="end" fill="#000"  stroke="#000" stroke-width="0.3">2500</text>
<line x1="78.8" y1="646.2" x2="84.8" y2="646.2" stroke="#000" stroke-width="1.6" />
<text x="76.0" y="650.3000000000001" font-size="11.3" font-weight="bold" font-style="normal" text-anchor="end" fill="#000"  stroke="#000" stroke-width="0.3">2000</text>
<line x1="78.8" y1="675.9" x2="84.8" y2="675.9" stroke="#000" stroke-width="1.6" />
<text x="76.0" y="680.0" font-size="11.3" font-weight="bold" font-style="normal" text-anchor="end" fill="#000"  stroke="#000" stroke-width="0.3">1500</text>
<line x1="78.8" y1="705.5" x2="84.8" y2="705.5" stroke="#000" stroke-width="1.6" />
<text x="76.0" y="709.6" font-size="11.3" font-weight="bold" font-style="normal" text-anchor="end" fill="#000"  stroke="#000" stroke-width="0.3">1000</text>
<line x1="78.8" y1="735.1" x2="84.8" y2="735.1" stroke="#000" stroke-width="1.6" />
<text x="76.0" y="739.2" font-size="11.3" font-weight="bold" font-style="normal" text-anchor="end" fill="#000"  stroke="#000" stroke-width="0.3">500</text>
<line x1="78.8" y1="764.5" x2="84.8" y2="764.5" stroke="#000" stroke-width="1.6" />
<text x="76.0" y="768.6" font-size="11.3" font-weight="bold" font-style="normal" text-anchor="end" fill="#000"  stroke="#000" stroke-width="0.3">0</text>
<line x1="84" y1="764.5" x2="182.7" y2="764.5" stroke="#000" stroke-width="1.8" />
<line x1="112.5" y1="764.5" x2="112.5" y2="770.5" stroke="#000" stroke-width="1.6" />
<line x1="155" y1="764.5" x2="155" y2="770.5" stroke="#000" stroke-width="1.6" />
<line x1="112.8" y1="658.4" x2="112.8" y2="695.5" stroke="#4258c0" stroke-width="1.15" />
<line x1="105.4" y1="658.4" x2="120.8" y2="658.4" stroke="#4258c0" stroke-width="1.15" />
<line x1="105.4" y1="695.5" x2="120.8" y2="695.5" stroke="#4258c0" stroke-width="1.15" />
<circle cx="112.5" cy="639.9" r="2.3" fill="#4258c0"/>
<circle cx="112.5" cy="691.6" r="2.3" fill="#4258c0"/>
<circle cx="112.5" cy="698.3" r="2.3" fill="#4258c0"/>
<line x1="155.3" y1="721.3" x2="155.3" y2="728.7" stroke="#e83a23" stroke-width="1.15" />
<line x1="147.6" y1="721.3" x2="163" y2="721.3" stroke="#e83a23" stroke-width="1.15" />
<line x1="147.6" y1="728.7" x2="163" y2="728.7" stroke="#e83a23" stroke-width="1.15" />
<rect x="153.10" y="715.30" width="4.40" height="4.40" fill="#e83a23" />
<rect x="148.00" y="727.10" width="4.40" height="4.40" fill="#e83a23" />
<rect x="157.50" y="726.20" width="4.40" height="4.40" fill="#e83a23" />
<polygon points="154.30,632.85 155.01,634.63 156.92,634.75 155.44,635.97 155.92,637.82 154.30,636.80 152.68,637.82 153.16,635.97 151.68,634.75 153.59,634.63" fill="#000"/>
<circle cx="128.1" cy="591" r="2.45" fill="#4258c0"/>
<text x="134.0" y="594.7" font-size="11.9" font-weight="bold" font-style="normal" text-anchor="start" fill="#000"  stroke="#000" stroke-width="0.3">Air</text>
<rect x="125.75" y="609.45" width="4.70" height="4.70" fill="#e83a23" />
<text x="134.0" y="615.8" font-size="11.9" font-weight="bold" font-style="normal" text-anchor="start" fill="#000"  stroke="#000" stroke-width="0.3">Hypoxia</text>
<text x="112.5" y="784" font-size="11" font-weight="bold" font-style="normal" text-anchor="middle" fill="#000"  stroke="#000" stroke-width="0.3">Air</text>
<text x="155" y="784" font-size="11" font-weight="bold" font-style="normal" text-anchor="middle" fill="#000"  stroke="#000" stroke-width="0.3">Hypoxia</text>
<text transform="translate(249.3,692.5) rotate(-90)" font-size="11.8" font-weight="bold" text-anchor="middle" stroke="#000" stroke-width="0.3">Fold Change of&#160; HSC</text>
<path d="M284.50,765.70 L284.50,737.80 L309.70,737.80 L309.70,765.70" fill="none" stroke="#4258c0" stroke-width="2.4" stroke-linejoin="miter"/>
<path d="M325.40,765.70 L325.40,671.30 L351.00,671.30 L351.00,765.70" fill="none" stroke="#e83a23" stroke-width="2.4" stroke-linejoin="miter"/>
<line x1="269.6" y1="621.1" x2="269.6" y2="766.0" stroke="#000" stroke-width="1.6" />
<line x1="263.6" y1="621.7" x2="269.6" y2="621.7" stroke="#000" stroke-width="1.6" />
<text x="263" y="625.8000000000001" font-size="10.8" font-weight="bold" font-style="normal" text-anchor="end" fill="#000"  stroke="#000" stroke-width="0.3">5</text>
<line x1="263.6" y1="650.5" x2="269.6" y2="650.5" stroke="#000" stroke-width="1.6" />
<text x="263" y="654.6" font-size="10.8" font-weight="bold" font-style="normal" text-anchor="end" fill="#000"  stroke="#000" stroke-width="0.3">4</text>
<line x1="263.6" y1="679.2" x2="269.6" y2="679.2" stroke="#000" stroke-width="1.6" />
<text x="263" y="683.3000000000001" font-size="10.8" font-weight="bold" font-style="normal" text-anchor="end" fill="#000"  stroke="#000" stroke-width="0.3">3</text>
<line x1="263.6" y1="707.9" x2="269.6" y2="707.9" stroke="#000" stroke-width="1.6" />
<text x="263" y="712.0" font-size="10.8" font-weight="bold" font-style="normal" text-anchor="end" fill="#000"  stroke="#000" stroke-width="0.3">2</text>
<line x1="263.6" y1="736.6" x2="269.6" y2="736.6" stroke="#000" stroke-width="1.6" />
<text x="263" y="740.7" font-size="10.8" font-weight="bold" font-style="normal" text-anchor="end" fill="#000"  stroke="#000" stroke-width="0.3">1</text>
<line x1="263.6" y1="765.2" x2="269.6" y2="765.2" stroke="#000" stroke-width="1.6" />
<text x="263" y="769.3000000000001" font-size="10.8" font-weight="bold" font-style="normal" text-anchor="end" fill="#000"  stroke="#000" stroke-width="0.3">0</text>
<line x1="268.8" y1="765.2" x2="365" y2="765.2" stroke="#000" stroke-width="1.8" />
<line x1="296.7" y1="765.2" x2="296.7" y2="771.5" stroke="#000" stroke-width="1.6" />
<line x1="337.7" y1="765.2" x2="337.7" y2="771.5" stroke="#000" stroke-width="1.6" />
<line x1="338.1" y1="661.2" x2="338.1" y2="680.4" stroke="#e83a23" stroke-width="1.15" />
<line x1="331.0" y1="661.2" x2="344.8" y2="661.2" stroke="#e83a23" stroke-width="1.15" />
<line x1="331.0" y1="680.4" x2="344.8" y2="680.4" stroke="#e83a23" stroke-width="1.15" />
<circle cx="338.1" cy="662.1" r="2.3" fill="#e83a23"/>
<circle cx="338.1" cy="670.1" r="2.3" fill="#e83a23"/>
<circle cx="338.1" cy="681.1" r="2.3" fill="#e83a23"/>
<circle cx="289.1" cy="736.3" r="2.3" fill="#4258c0"/>
<circle cx="297.0" cy="736.3" r="2.3" fill="#4258c0"/>
<circle cx="304.9" cy="736.3" r="2.3" fill="#4258c0"/>
<polygon points="333.50,629.75 334.21,631.53 336.12,631.65 334.64,632.87 335.12,634.72 333.50,633.70 331.88,634.72 332.36,632.87 330.88,631.65 332.79,631.53" fill="#000"/>
<polygon points="338.80,629.75 339.51,631.53 341.42,631.65 339.94,632.87 340.42,634.72 338.80,633.70 337.18,634.72 337.66,632.87 336.18,631.65 338.09,631.53" fill="#000"/>
<polygon points="344.00,629.75 344.71,631.53 346.62,631.65 345.14,632.87 345.62,634.72 344.00,633.70 342.38,634.72 342.86,632.87 341.38,631.65 343.29,631.53" fill="#000"/>
<text transform="translate(304.3,781.2) rotate(-45)" font-size="11" font-weight="bold" text-anchor="end" stroke="#000" stroke-width="0.3">Control</text>
<text transform="translate(350.2,779.2) rotate(-45)" font-size="11" font-weight="bold" font-style="italic" text-anchor="end" stroke="#000" stroke-width="0.3">sh-ROCK1</text>
<text transform="translate(422.8,690.3) rotate(-90)" font-size="11.8" font-weight="bold" text-anchor="middle" stroke="#000" stroke-width="0.3">Fold Change of&#160; HSC</text>
<path d="M460.40,761.20 L460.40,754.10 L475.20,754.10 L475.20,761.20" fill="none" stroke="#4258c0" stroke-width="2.4" stroke-linejoin="miter"/>
<circle cx="460.3" cy="753.0" r="1.1" fill="#4258c0"/>
<circle cx="463.2" cy="753.0" r="1.1" fill="#4258c0"/>
<circle cx="466.1" cy="753.0" r="1.1" fill="#4258c0"/>
<circle cx="469.2" cy="753.0" r="1.1" fill="#4258c0"/>
<circle cx="472.2" cy="753.0" r="1.1" fill="#4258c0"/>
<circle cx="475.1" cy="753.0" r="1.1" fill="#4258c0"/>
<path d="M486.50,761.20 L486.50,758.10 L501.70,758.10 L501.70,761.20" fill="none" stroke="#e83a23" stroke-width="2.2" stroke-linejoin="miter"/>
<line x1="450.1" y1="628.9" x2="450.1" y2="761.5" stroke="#000" stroke-width="1.6" />
<text x="443.2" y="632.8" font-size="9.4" font-weight="bold" font-style="normal" text-anchor="end" fill="#000"  stroke="#000" stroke-width="0.3">20</text>
<line x1="444.1" y1="662.2" x2="450.1" y2="662.2" stroke="#000" stroke-width="1.6" />
<text x="443.2" y="665.6" font-size="9.4" font-weight="bold" font-style="normal" text-anchor="end" fill="#000"  stroke="#000" stroke-width="0.3">15</text>
<line x1="444.1" y1="695.0" x2="450.1" y2="695.0" stroke="#000" stroke-width="1.6" />
<text x="443.2" y="698.4" font-size="9.4" font-weight="bold" font-style="normal" text-anchor="end" fill="#000"  stroke="#000" stroke-width="0.3">10</text>
<line x1="444.1" y1="727.9" x2="450.1" y2="727.9" stroke="#000" stroke-width="1.6" />
<text x="443.2" y="731.3" font-size="9.4" font-weight="bold" font-style="normal" text-anchor="end" fill="#000"  stroke="#000" stroke-width="0.3">5</text>
<line x1="444.1" y1="760.7" x2="450.1" y2="760.7" stroke="#000" stroke-width="1.6" />
<text x="443.2" y="764.1" font-size="9.4" font-weight="bold" font-style="normal" text-anchor="end" fill="#000"  stroke="#000" stroke-width="0.3">0</text>
<line x1="449.3" y1="760.7" x2="537.7" y2="760.7" stroke="#000" stroke-width="1.8" />
<line x1="467.6" y1="760.7" x2="467.6" y2="766" stroke="#000" stroke-width="1.6" />
<line x1="494.3" y1="760.7" x2="494.3" y2="766" stroke="#000" stroke-width="1.6" />
<line x1="520.6" y1="760.7" x2="520.6" y2="766" stroke="#000" stroke-width="1.6" />
<line x1="494.2" y1="751.8" x2="494.2" y2="758" stroke="#e83a23" stroke-width="1.0" />
<line x1="489.3" y1="751.8" x2="498.8" y2="751.8" stroke="#e83a23" stroke-width="1.0" />
<line x1="489.3" y1="758" x2="498.8" y2="758" stroke="#e83a23" stroke-width="1.0" />
<circle cx="494.2" cy="753.2" r="1.6" fill="#e83a23"/>
<circle cx="490" cy="756.3" r="1.6" fill="#e83a23"/>
<circle cx="493.5" cy="757.5" r="1.6" fill="#e83a23"/>
<circle cx="498.1" cy="758.0" r="1.6" fill="#e83a23"/>
<circle cx="495.9" cy="759.5" r="1.6" fill="#e83a23"/>
<path d="M512.90,761.20 L512.90,705.40 L528.40,705.40 L528.40,761.20" fill="none" stroke="#5fd42c" stroke-width="2.0" stroke-linejoin="miter"/>
<line x1="520.6" y1="693.4" x2="520.6" y2="738" stroke="#7be05a" stroke-width="1.0" />
<line x1="516.2" y1="693.4" x2="524.8" y2="693.4" stroke="#7be05a" stroke-width="1.0" />
<line x1="516.2" y1="738" x2="524.8" y2="738" stroke="#7be05a" stroke-width="1.0" />
<circle cx="520.5" cy="685.6" r="2.0" fill="#5fd42c"/>
<circle cx="520.5" cy="715.7" r="2.0" fill="#5fd42c"/>
<circle cx="520.5" cy="722" r="2.0" fill="#5fd42c"/>
<circle cx="517" cy="738.1" r="2.0" fill="#5fd42c"/>
<circle cx="524.1" cy="738.1" r="2.0" fill="#5fd42c"/>
<polygon points="515.60,627.75 516.31,629.53 518.22,629.65 516.74,630.87 517.22,632.72 515.60,631.70 513.98,632.72 514.46,630.87 512.98,629.65 514.89,629.53" fill="#000"/>
<polygon points="521.00,627.75 521.71,629.53 523.62,629.65 522.14,630.87 522.62,632.72 521.00,631.70 519.38,632.72 519.86,630.87 518.38,629.65 520.29,629.53" fill="#000"/>
<polygon points="526.60,627.75 527.31,629.53 529.22,629.65 527.74,630.87 528.22,632.72 526.60,631.70 524.98,632.72 525.46,630.87 523.98,629.65 525.89,629.53" fill="#000"/>
<line x1="466.9" y1="741.7" x2="492.4" y2="741.7" stroke="#000" stroke-width="1.8" />
<text x="480.4" y="738.8" font-size="11.6" font-weight="bold" font-style="normal" text-anchor="middle" fill="#000"  stroke="#000" stroke-width="0.3">ns.</text>
<text transform="translate(473.5,775.6) rotate(-45)" font-size="12" font-weight="bold" text-anchor="end" stroke="#000" stroke-width="0.3">Non-treated</text>
<text transform="translate(499.6,776.6) rotate(-45)" font-size="12" font-weight="bold" text-anchor="end" stroke="#000" stroke-width="0.3">DMSO</text>
<text transform="translate(527,775.6) rotate(-45)" font-size="12" font-weight="bold" text-anchor="end" stroke="#000" stroke-width="0.3">Y27632</text>
</svg>
</body></html>
